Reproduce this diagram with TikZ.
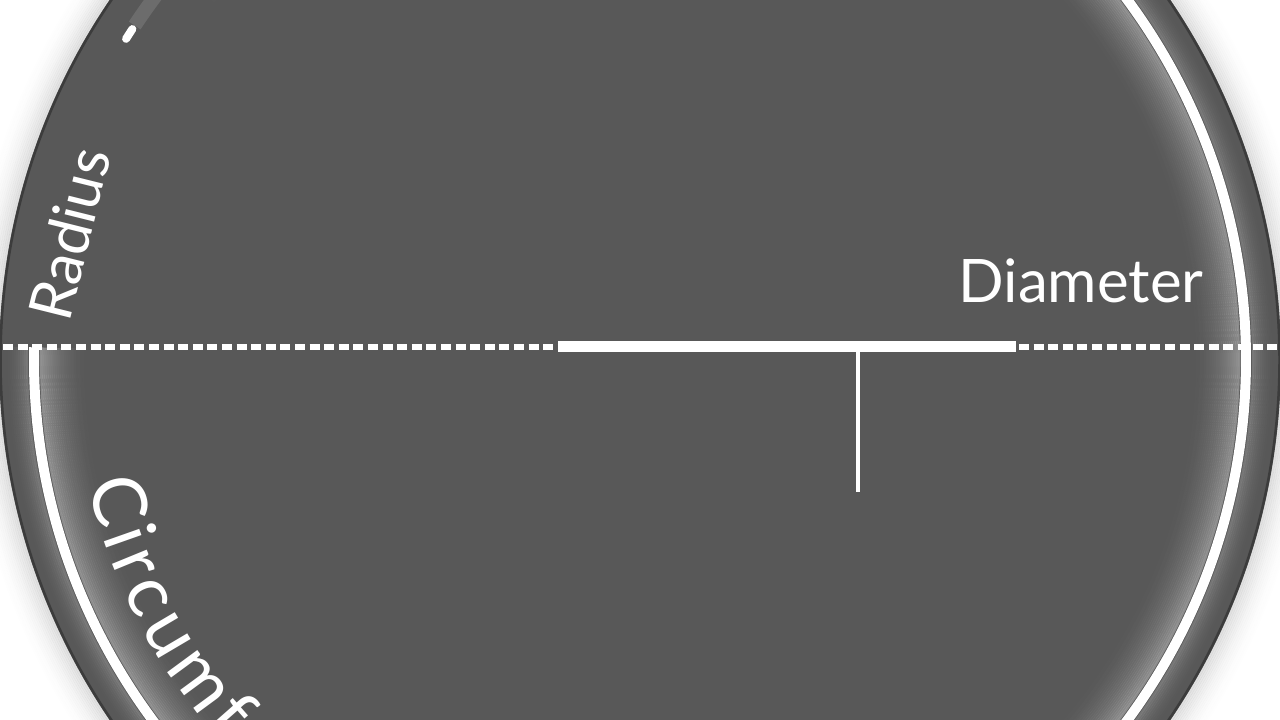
\documentclass[tikz,border=0pt]{standalone}
\usepackage{fontspec}
\setmainfont{Lato}
\usetikzlibrary{decorations.text}
\definecolor{diskgray}{RGB}{88,88,88}
\definecolor{rimdark}{RGB}{60,60,60}
\newcommand{\lsp}{\kern6pt}
\begin{document}
\begin{tikzpicture}[x=1pt,y=1pt,
  dashline/.style={white, line width=5.5, dash pattern=on 10 off 4.6, dash phase=11.6},
  barline/.style={white, line width=11},
  stemline/.style={white, line width=4},
  ringline/.style={white, line width=10},
  labeltext/.style={text=white, inner sep=0pt}]
\useasboundingbox (0,0) rectangle (1280,720);
\begin{scope}
\clip (0,0) rectangle (1280,720);
\fill[white] (0,0) rectangle (1280,720);
\coordinate (C) at (640,360);
% soft shadow outside the disk
\foreach \k in {0,...,17}{
  \pgfmathsetmacro\op{0.12*(1-\k/18)^2}
  \pgfmathsetmacro\rr{642+2*\k}
  \draw[black, opacity=\op, line width=2.1] (C) circle (\rr);
}
% disk
\fill[diskgray] (C) circle (641);
\draw[rimdark, line width=2.5] (C) circle (639.5);
% inner glow inside the ring
\foreach \k in {0,...,24}{
  \pgfmathsetmacro\op{0.32*(1-\k/25)^2}
  \pgfmathsetmacro\rr{599-2*\k}
  \draw[white, opacity=\op, line width=2.1] (C) ++(178.8:\rr) arc[start angle=178.8, end angle=500, radius=\rr];
}
% glow outside the ring
\foreach \k in {0,...,11}{
  \pgfmathsetmacro\op{0.18*(1-\k/12)^2}
  \pgfmathsetmacro\rr{613+2*\k}
  \draw[white, opacity=\op, line width=2.1] (C) ++(178.8:\rr) arc[start angle=178.8, end angle=500, radius=\rr];
}
% circumference ring
\draw[ringline] (C) ++(178.8:606) arc[start angle=178.8, end angle=501, radius=606];
\draw[white, opacity=0.12, line width=14] (C) ++(501:606) arc[start angle=501, end angle=506.5, radius=606];
\draw[white, line width=8, line cap=round] (C) ++(146.9:606) arc[start angle=146.9, end angle=148.0, radius=606];
% dashed line and diameter bar
\coordinate (L) at (0,373);
\coordinate (A) at (558,373);
\coordinate (B) at (1016,373);
\coordinate (R) at (1280,373);
\coordinate (T) at (858,373);
\coordinate (Tb) at (858,228);
\draw[dashline] (L) -- (A);
\draw[dashline] (B) -- (R);
\draw[barline] (A) -- (B);
\draw[stemline] (T) -- (Tb);
% labels
\node[labeltext, anchor=base, font=\fontsize{60}{68}\selectfont] (diam) at (1081,417) {Diameter};
\node[labeltext, rotate=76, font=\fontsize{60}{66}\selectfont] (radius) at (69,486) {Radius};
\path[decorate, decoration={text along path, text align=left,
  text={|\fontsize{74}{88}\selectfont\color{white}|{C\lsp}{i\lsp}{r\lsp}{c\lsp}{u\lsp}{m\lsp}{f\lsp}{e\lsp}{r\lsp}{e\lsp}{n\lsp}{c\lsp}e}}]
  (C) ++(192.6:566) arc[start angle=192.6, end angle=300, radius=566];
\end{scope}
\end{tikzpicture}
\end{document}
